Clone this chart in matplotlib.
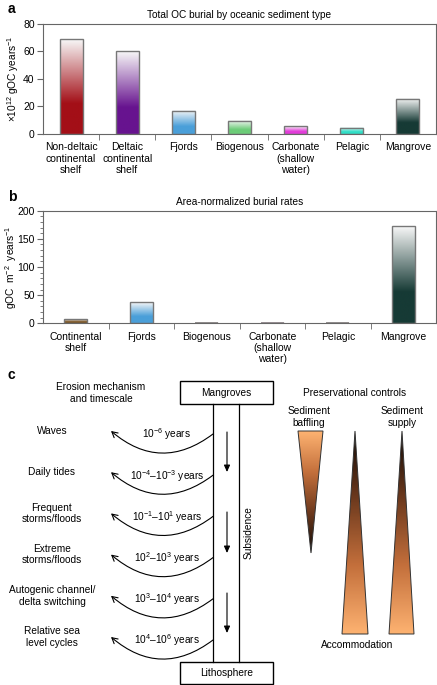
import numpy as np
import matplotlib
matplotlib.use('Agg')
import matplotlib.pyplot as plt
from matplotlib.patches import Rectangle, Polygon, FancyArrowPatch
from matplotlib.colors import to_rgb, LinearSegmentedColormap

plt.rcParams['font.family'] = ['Liberation Sans', 'DejaVu Sans']
plt.rcParams['mathtext.fontset'] = 'custom'
plt.rcParams['mathtext.rm'] = 'Liberation Sans'
plt.rcParams['mathtext.it'] = 'Liberation Sans'
plt.rcParams['mathtext.default'] = 'regular'

# Panel a: total burial
cats_a = ['Non-deltaic\ncontinental\nshelf', 'Deltaic\ncontinental\nshelf', 'Fjords', 'Biogenous',
          'Carbonate\n(shallow\nwater)', 'Pelagic', 'Mangrove']
vals_a = [69, 60, 17, 9.7, 5.6, 4.6, 25.7]
cols_a = ['#a30f17', '#67138f', '#4a9fd9', '#6ccc78', '#e23bd9', '#2fdec6', '#163a35']

# Panel b: area-normalized burial
cats_b = ['Continental\nshelf', 'Fjords', 'Biogenous', 'Carbonate\n(shallow\nwater)', 'Pelagic', 'Mangrove']
vals_b = [7, 37, 1.2, 1.2, 1.2, 172]
cols_b = ['#7a5422', '#4a9fd9', '#4e4444', '#5a4650', '#4e4444', '#163a35']

# Panel c
mechanisms = ['Waves', 'Daily tides', 'Frequent\nstorms/floods', 'Extreme\nstorms/floods',
              'Autogenic channel/\ndelta switching', 'Relative sea\nlevel cycles']
timescales = ['10$^{-6}$ years', '10$^{-4}$–10$^{-3}$ years', '10$^{-1}$–10$^{1}$ years',
              '10$^{2}$–10$^{3}$ years', '10$^{3}$–10$^{4}$ years', '10$^{4}$–10$^{6}$ years']

W, H = 437, 685
fig = plt.figure(figsize=(W / 100, H / 100), dpi=100)
fs = 7.3
spine_c = '#666666'


def grad_img(color, n=100):
    c = np.array(to_rgb(color))
    t = np.linspace(0, 1, n)
    f = np.clip(t / 0.68, 0, 1)[:, None]
    img = (1 - f) * np.array([0.97, 0.97, 0.97]) + f * c
    return img[:, None, :]


def bar_panel(rect, cats, vals, cols, ymax, yticks, ylabel, title, label_x, minor=None, width=0.41):
    ax = fig.add_axes(rect)
    x = np.arange(len(cats))
    for xi, v, c in zip(x, vals, cols):
        ax.imshow(grad_img(c), extent=(xi - width / 2, xi + width / 2, 0, v), aspect='auto',
                  origin='upper', zorder=2, interpolation='bilinear')
    ax.bar(x, vals, width=width, facecolor='none', edgecolor='#777777', lw=1.0, zorder=3)
    ax.set_xlim(-0.5, len(cats) - 0.5)
    ax.set_ylim(0, ymax)
    ax.set_xticks(x)
    ax.set_xticklabels(cats, fontsize=fs + 0.2, linespacing=1.15)
    ax.tick_params(axis='x', which='major', length=0, pad=6)
    ax.set_xticks(np.arange(len(cats) - 1) + 0.5, minor=True)
    ax.tick_params(axis='x', which='minor', length=4, color=spine_c)
    ax.set_yticks(yticks)
    ax.tick_params(axis='y', which='major', labelsize=fs + 0.2, length=4, color=spine_c, pad=2)
    if minor is not None:
        ax.set_yticks(minor, minor=True)
        ax.tick_params(axis='y', which='minor', length=2, color=spine_c)
    for s in ax.spines.values():
        s.set_color(spine_c)
        s.set_linewidth(0.8)
    ax.set_ylabel(ylabel, fontsize=fs)
    ax.yaxis.set_label_coords(label_x, 0.5)
    ax.set_title(title, fontsize=fs, pad=4)
    return ax


bar_panel([43 / W, 1 - 134 / H, 393 / W, 110 / H], cats_a, vals_a, cols_a, 80, [0, 20, 40, 60, 80],
          '×10$^{12}$ gOC years$^{-1}$', 'Total OC burial by oceanic sediment type', -0.055)
bar_panel([43 / W, 1 - 323.3 / H, 393 / W, 112.6 / H], cats_b, vals_b, cols_b, 200, [0, 50, 100, 150, 200],
          'gOC  m$^{-2}$  years$^{-1}$', 'Area-normalized burial rates', -0.062,
          minor=np.arange(0, 201, 10), width=0.35)

fig.text(8 / W, 1 - 9 / H, 'a', fontsize=10, fontweight='bold', va='center')
fig.text(8 / W, 1 - 197 / H, 'b', fontsize=10, fontweight='bold', va='center')

# Panel c diagram in pixel coordinates
ax = fig.add_axes([0, 0, 1, 1], zorder=-1)
ax.set_xlim(0, W)
ax.set_ylim(H, 0)
ax.axis('off')

ax.text(8, 375, 'c', fontsize=10, fontweight='bold', va='center')
ax.text(101, 393, 'Erosion mechanism\nand timescale', fontsize=fs, ha='center', va='center', linespacing=1.2)

ax.add_patch(Rectangle((180, 381), 93, 23, fill=False, ec='black', lw=1))
ax.text(226.5, 392.5, 'Mangroves', fontsize=fs, ha='center', va='center')
ax.add_patch(Rectangle((180, 662), 93, 22, fill=False, ec='black', lw=1))
ax.text(226.5, 673, 'Lithosphere', fontsize=fs, ha='center', va='center')
ax.plot([213, 213], [404, 662], color='black', lw=0.9)
ax.plot([239, 239], [404, 662], color='black', lw=0.9)
ax.text(249, 533, 'Subsidence', fontsize=fs, rotation=90, ha='center', va='center')

for y0, y1 in [(432, 472), (512, 553), (593, 633)]:
    ax.add_patch(FancyArrowPatch((227, y0), (227, y1), arrowstyle='-|>,head_length=4,head_width=1.8',
                                 color='black', lw=0.8, shrinkA=0, shrinkB=0))

for i, (m, t) in enumerate(zip(mechanisms, timescales)):
    y = 431 + i * 41.2
    ax.text(52, y, m, fontsize=fs, ha='center', va='center', linespacing=1.2)
    ax.add_patch(FancyArrowPatch((213, y + 3), (111, y), connectionstyle='arc3,rad=-0.4',
                                 arrowstyle='->,head_length=4,head_width=2.2', color='black', lw=0.8,
                                 shrinkA=0, shrinkB=0))
    ax.text(167, y + 3.5, t, fontsize=fs, ha='center', va='center')

ax.text(355, 393, 'Preservational controls', fontsize=fs, ha='center', va='center')
ax.text(309, 417, 'Sediment\nbaffling', fontsize=fs, ha='center', va='center', linespacing=1.15)
ax.text(402, 417, 'Sediment\nsupply', fontsize=fs, ha='center', va='center', linespacing=1.15)
ax.text(357, 645, 'Accommodation', fontsize=fs, ha='center', va='center')

tri_cmap = LinearSegmentedColormap.from_list('tri', ['#120a05', '#6e3a1e', '#c4703c', '#fdb271'])
grad = np.linspace(0, 1, 200)[:, None]
triangles = [
    ([(298, 431), (323, 431), (311, 553)], grad[::-1]),
    ([(355, 431), (342, 634), (368, 634)], grad),
    ([(402, 431), (389, 634), (414, 634)], grad),
]
for pts, g in triangles:
    xs = [p[0] for p in pts]
    ys = [p[1] for p in pts]
    poly = Polygon(pts, closed=True, fill=False, ec='#333333', lw=0.7, zorder=3)
    ax.add_patch(poly)
    im = ax.imshow(g, cmap=tri_cmap, extent=(min(xs), max(xs), max(ys), min(ys)), origin='upper',
                   aspect='auto', zorder=2, interpolation='bilinear')
    im.set_clip_path(poly)

ax.set_xlim(0, W)
ax.set_ylim(H, 0)

fig.savefig('out.png', dpi=100)
